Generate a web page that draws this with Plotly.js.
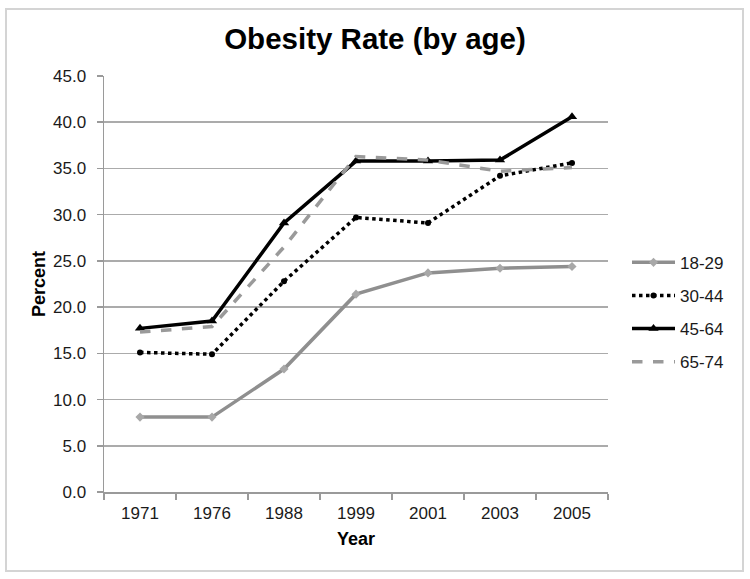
<!DOCTYPE html>
<html>
<head>
<meta charset="utf-8">
<script src="https://cdn.plot.ly/plotly-3.0.1.min.js"></script>
<style>
  html, body { margin: 0; padding: 0; background: #fff; }
  #wrap { position: relative; width: 750px; height: 579px; }
  #chart { width: 750px; height: 579px; }
  #frame { position: absolute; left: 5px; top: 8px; width: 735px; height: 560px;
           border: 2px solid #d4d4d4; pointer-events: none; }
</style>
</head>
<body>
<div id="wrap">
  <div id="chart"></div>
  <div id="frame"></div>
</div>
<script>
const years = ['1971', '1976', '1988', '1999', '2001', '2003', '2005'];
const age18_29 = [8.1, 8.1, 13.3, 21.4, 23.7, 24.2, 24.4];
const age30_44 = [15.1, 14.9, 22.8, 29.7, 29.1, 34.2, 35.6];
const age45_64 = [17.7, 18.5, 29.1, 35.8, 35.8, 35.9, 40.6];
const age65_74 = [17.3, 17.9, 26.5, 36.3, 35.9, 34.7, 35.1];
const seriesNames = ['18-29', '30-44', '45-64', '65-74'];
const yTicks = [0, 5, 10, 15, 20, 25, 30, 35, 40, 45];

const traces = [
  { x: years, y: age18_29, name: seriesNames[0], legendgroup: 'a', mode: 'lines+markers',
    line: { color: '#8f8f8f', width: 3.5 },
    marker: { symbol: 'diamond', size: 7, color: '#a8a8a8' } },
  { x: years, y: age30_44, name: seriesNames[1], legendgroup: 'b', mode: 'lines+markers',
    line: { color: '#000', width: 3.5, dash: 'dot' },
    marker: { symbol: 'circle', size: 6, color: '#000' } },
  { x: years, y: age45_64, name: seriesNames[2], legendgroup: 'c', mode: 'lines+markers',
    line: { color: '#000', width: 3.5 },
    marker: { symbol: 'triangle-up', size: 9, color: '#000' } },
  { x: years, y: age65_74, name: seriesNames[3], legendgroup: 'd', mode: 'lines',
    line: { color: '#9a9a9a', width: 3.5, dash: 'dash' } }
];

const layout = {
  width: 750, height: 579,
  paper_bgcolor: '#fff', plot_bgcolor: '#fff',
  margin: { l: 104, r: 142, t: 76, b: 87, pad: 0 },
  font: { family: 'Liberation Sans, Arial, sans-serif', color: '#1a1a1a', size: 17 },
  title: { text: '<b>Obesity Rate (by age)</b>', x: 0.5, xanchor: 'center', y: 0.933, yanchor: 'middle',
           xref: 'container', yref: 'container',
           font: { size: 29.5, color: '#000', family: 'Liberation Sans, Arial, sans-serif' } },
  xaxis: {
    type: 'category', range: [-0.5, 6.5],
    showline: true, linecolor: '#9a9a9a', linewidth: 1.5,
    showgrid: false, ticks: 'outside', ticklen: 6, tickcolor: '#9a9a9a', tickwidth: 1.5,
    tickson: 'boundaries', ticklabelstandoff: 5, tickfont: { size: 17, color: '#1a1a1a' },
    title: { text: '<b>Year</b>', font: { size: 18, color: '#000' }, standoff: 10 },
    fixedrange: true
  },
  yaxis: {
    range: [0, 45], tickvals: yTicks, tickformat: '.1f',
    showline: true, linecolor: '#9a9a9a', linewidth: 1.5,
    showgrid: true, gridcolor: '#ababab', gridwidth: 1.5,
    ticks: 'outside', ticklen: 13, tickcolor: 'rgba(0,0,0,0)', tickwidth: 1.5,
    minor: { tickvals: yTicks, ticks: 'outside', ticklen: 6, tickcolor: '#9a9a9a', tickwidth: 1.5, showgrid: false },
    tickfont: { size: 17, color: '#1a1a1a' },
    title: { text: '<b>Percent</b>', font: { size: 18, color: '#000' }, standoff: 2 },
    zeroline: false, fixedrange: true
  },
  legend: {
    x: 1.0377, xref: 'paper', xanchor: 'left', y: 0.432, yanchor: 'middle',
    font: { size: 17, color: '#1a1a1a' }, tracegroupgap: 8, itemwidth: 43,
    bgcolor: 'rgba(0,0,0,0)'
  },
  showlegend: true
};

Plotly.newPlot('chart', traces, layout, { displayModeBar: false, staticPlot: true });
</script>
</body>
</html>
